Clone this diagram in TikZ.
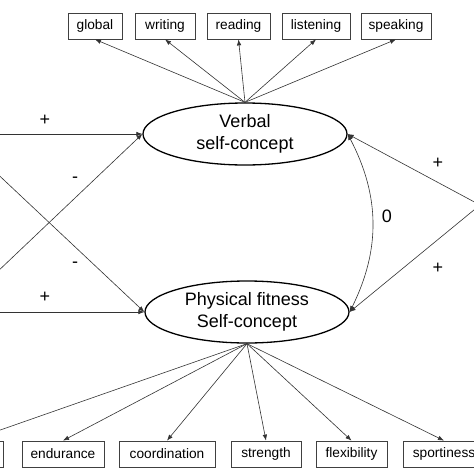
\documentclass[tikz,border=0pt]{standalone}
\usepackage{fontspec}
\setmainfont{Liberation Sans}
\usetikzlibrary{shapes.geometric,arrows.meta}
\begin{document}
\begin{tikzpicture}[x=1pt,y=-1pt,
  lat/.style={ellipse,draw,line width=1.3pt,minimum width=204pt,minimum height=62pt,inner sep=0pt,align=center,font=\fontsize{18}{22}\selectfont},
  ind/.style={draw=black!75,line width=0.8pt,minimum height=26pt,inner sep=0pt,font=\fontsize{13.7}{16}\selectfont},
  arr/.style={draw=black!80,line width=0.6pt,-{Latex[length=6pt,width=4.5pt]}},
  darr/.style={draw=black!80,line width=0.6pt,{Latex[length=6pt,width=4.5pt]}-{Latex[length=6pt,width=4.5pt]}},
  lbl/.style={font=\fontsize{18}{20}\selectfont,inner sep=0pt}]
\useasboundingbox (0,0) rectangle (474,474);
\fill[white] (0,0) rectangle (474,474);
\clip (0,0) rectangle (474,474);
% latent variables
\node[lat] (v) at (245,134) {Verbal\\self-concept};
\node[lat] (p) at (247,312) {Physical fitness\\Self-concept};
% top indicators
\node[ind,minimum width=54pt] (g) at (95,26) {global};
\node[ind,minimum width=60pt] (w) at (165,26) {writing};
\node[ind,minimum width=63pt] (r) at (238.5,26) {reading};
\node[ind,minimum width=68pt] (l) at (316,26) {listening};
\node[ind,minimum width=70pt] (s) at (396,26) {speaking};
% bottom indicators
\node[ind,minimum width=66pt] (x) at (-30,454) {};
\node[ind,minimum width=82pt] (e) at (63,454) {endurance};
\node[ind,minimum width=96pt] (c) at (167,454) {coordination};
\node[ind,minimum width=70pt] (st) at (266,454) {strength};
\node[ind,minimum width=71pt] (f) at (351.5,454) {flexibility};
\node[ind,minimum width=82pt] (sp) at (444,454) {sportiness};
% sources outside the frame
\coordinate (A) at (-45,134);
\coordinate (B) at (-45,312);
\coordinate (C) at (480,205);
% loadings
\foreach \t in {g,w,r,l,s} \draw[arr] (v.north) -- (\t.south);
\foreach \t in {x,e,c,st,f,sp} \draw[arr] (p.south) -- (\t.north);
% predictors
\draw[arr] (A) -- (v.west);
\draw[arr] (A) -- (p.west);
\draw[arr] (B) -- (v.west);
\draw[arr] (B) -- (p.west);
\draw[arr] (C) -- (v.east);
\draw[arr] (C) -- (p.east);
\draw[darr] (v.east) to[bend left=27] (p.east);
% labels
\node[lbl] (l1) at (45,120) {+};
\node[lbl] (l2) at (75,180) {-};
\node[lbl] (l3) at (75,265) {-};
\node[lbl] (l4) at (45,297) {+};
\node[lbl] (l5) at (438,163) {+};
\node[lbl] (l6) at (438,268) {+};
\node[lbl] (l7) at (387,216) {0};
\end{tikzpicture}
\end{document}
